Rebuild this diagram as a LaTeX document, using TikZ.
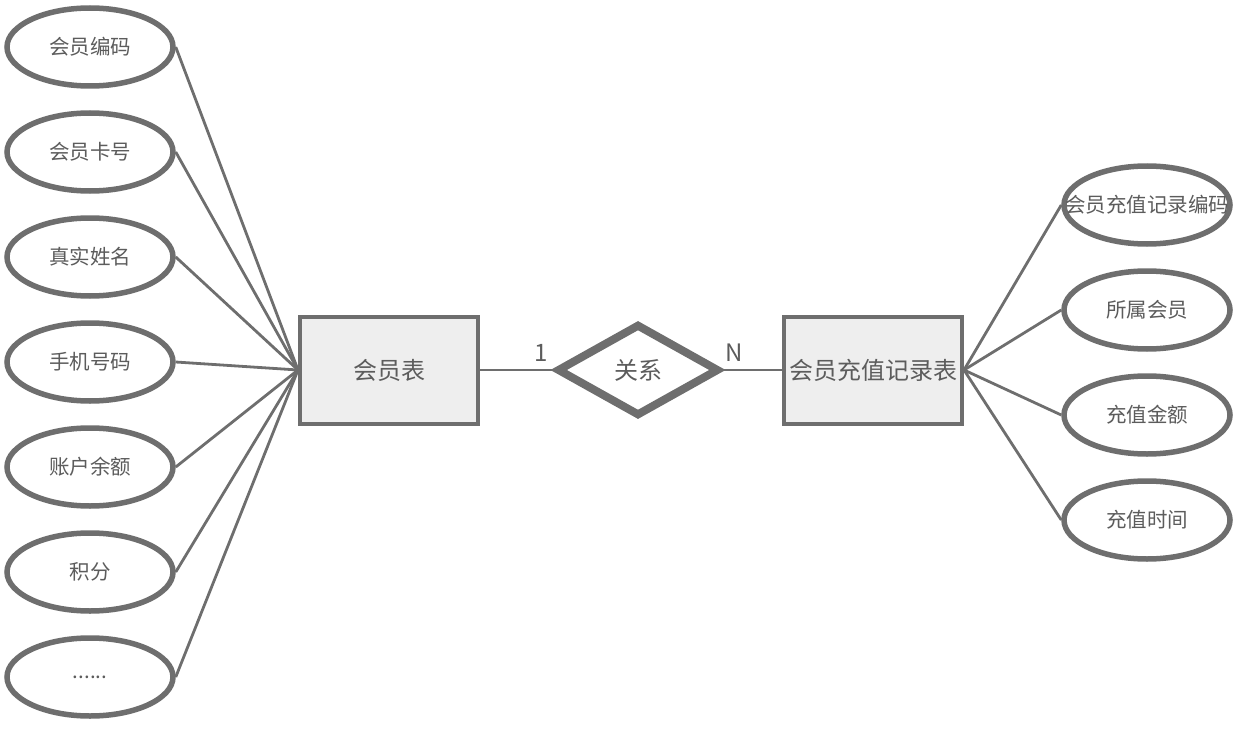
\documentclass[tikz,border=0pt]{standalone}
\usepackage{fontspec}
\setmainfont{Noto Sans CJK SC}
\usetikzlibrary{shapes.geometric}
\definecolor{erline}{HTML}{6E6E6E}
\definecolor{ertext}{HTML}{5C5C5C}
\definecolor{erfill}{HTML}{EEEEEE}
\newcommand{\moreattrs}{......}
\tikzset{
  attr/.style={ellipse,draw=erline,line width=5.5pt,fill=white,inner sep=0pt,
    minimum width=166pt,minimum height=78pt,text=ertext,font=\fontsize{20.5}{20.5}\selectfont},
  entity/.style={rectangle,draw=erline,line width=4pt,fill=erfill,inner sep=0pt,
    minimum width=178pt,minimum height=107pt,text=ertext,font=\fontsize{24}{24}\selectfont},
  relation/.style={diamond,draw=erline,line width=8pt,fill=white,inner sep=0pt,
    minimum width=162pt,minimum height=92pt,text=ertext,font=\fontsize{24}{24}\selectfont},
  link/.style={draw=erline,line width=2.8pt},
  card/.style={text=ertext,font=\fontsize{24}{24}\selectfont}
}

\begin{document}
\begin{tikzpicture}[x=1pt,y=-1pt]
   \useasboundingbox (0,0) rectangle (1242,741);
   % entities and relation
   \node[entity] (member) at (389,370) {会员表};
   \node[entity] (recharge) at (873,370) {会员充值记录表};
   \node[relation] (rel) at (638,370) {关系};
   \draw[link] (member.east) -- (rel.west);
   \draw[link] (rel.east) -- (recharge.west);
   \node[card] (one) at (541,353) {1};
   \node[card] (many) at (734,353) {N};
   % member attributes
   \foreach \t [count=\i] in {会员编码,会员卡号,真实姓名,手机号码,账户余额,积分,\moreattrs} {
     \pgfmathsetmacro{\y}{47+105*(\i-1)}
     \node[attr] (m\i) at (90,\y) {\makebox[0pt]{\t}};
     \draw[link] (member.west) -- (m\i.east);
   }
   % recharge attributes
   \foreach \t [count=\i] in {会员充值记录编码,所属会员,充值金额,充值时间} {
     \pgfmathsetmacro{\y}{205+105*(\i-1)}
     \node[attr] (r\i) at (1147,\y) {\makebox[0pt]{\t}};
     \draw[link] (recharge.east) -- (r\i.west);
   }
\end{tikzpicture}
\end{document}
